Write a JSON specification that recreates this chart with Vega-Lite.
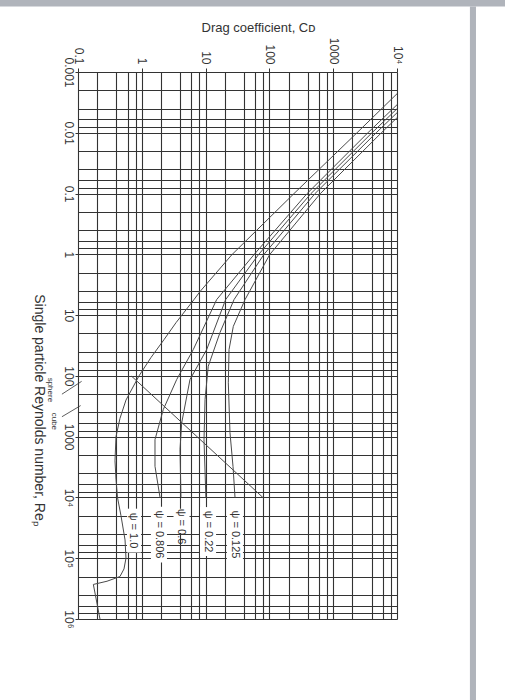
{
  "$schema": "https://vega.github.io/schema/vega-lite/v6.json",
  "width": 319,
  "height": 547,
  "autosize": "none",
  "padding": {"left": 78, "top": 72, "right": 108, "bottom": 81},
  "background": "#ffffff",
  "config": {"font": "Liberation Sans", "view": {"stroke": null}},
  "datasets": {
    "curves": [
      {"psi": "1.0", "CD": 10000, "Re": 0.00228},
      {"psi": "1.0", "CD": 2360, "Re": 0.01},
      {"psi": "1.0", "CD": 243, "Re": 0.1},
      {"psi": "1.0", "CD": 25.9, "Re": 1.01},
      {"psi": "1.0", "CD": 8.17, "Re": 4.1},
      {"psi": "1.0", "CD": 6.57, "Re": 5.56},
      {"psi": "1.0", "CD": 3.44, "Re": 13.3},
      {"psi": "1.0", "CD": 2.23, "Re": 25.3},
      {"psi": "1.0", "CD": 1.39, "Re": 50},
      {"psi": "1.0", "CD": 0.904, "Re": 100},
      {"psi": "1.0", "CD": 0.565, "Re": 250},
      {"psi": "1.0", "CD": 0.455, "Re": 500},
      {"psi": "1.0", "CD": 0.394, "Re": 1000},
      {"psi": "1.0", "CD": 0.38, "Re": 2500},
      {"psi": "1.0", "CD": 0.394, "Re": 5000},
      {"psi": "1.0", "CD": 0.416, "Re": 10000},
      {"psi": "1.0", "CD": 0.472, "Re": 20000},
      {"psi": "1.0", "CD": 0.546, "Re": 50000},
      {"psi": "1.0", "CD": 0.565, "Re": 100000},
      {"psi": "1.0", "CD": 0.526, "Re": 150000},
      {"psi": "1.0", "CD": 0.455, "Re": 200000},
      {"psi": "1.0", "CD": 0.285, "Re": 239000},
      {"psi": "1.0", "CD": 0.174, "Re": 270000},
      {"psi": "1.0", "CD": 0.221, "Re": 1000000},
      {"psi": "0.806", "CD": 10000, "Re": 0.00346},
      {"psi": "0.806", "CD": 3510, "Re": 0.00996},
      {"psi": "0.806", "CD": 388, "Re": 0.1005},
      {"psi": "0.806", "CD": 57.4, "Re": 1.01},
      {"psi": "0.806", "CD": 14.9, "Re": 5.56},
      {"psi": "0.806", "CD": 6.41, "Re": 36.9},
      {"psi": "0.806", "CD": 3.52, "Re": 115},
      {"psi": "0.806", "CD": 2.17, "Re": 358},
      {"psi": "0.806", "CD": 1.61, "Re": 1117},
      {"psi": "0.806", "CD": 1.61, "Re": 3070},
      {"psi": "0.806", "CD": 1.93, "Re": 10000},
      {"psi": "0.6", "CD": 10000, "Re": 0.00403},
      {"psi": "0.6", "CD": 4055, "Re": 0.01},
      {"psi": "0.6", "CD": 449, "Re": 0.1},
      {"psi": "0.6", "CD": 67.5, "Re": 1.01},
      {"psi": "0.6", "CD": 20.6, "Re": 5.56},
      {"psi": "0.6", "CD": 10.4, "Re": 36.9},
      {"psi": "0.6", "CD": 5.69, "Re": 115},
      {"psi": "0.6", "CD": 4.22, "Re": 593},
      {"psi": "0.6", "CD": 3.97, "Re": 1630},
      {"psi": "0.6", "CD": 4.11, "Re": 10000},
      {"psi": "0.22", "CD": 10000, "Re": 0.00469},
      {"psi": "0.22", "CD": 4720, "Re": 0.01},
      {"psi": "0.22", "CD": 519, "Re": 0.1},
      {"psi": "0.22", "CD": 81.7, "Re": 1.01},
      {"psi": "0.22", "CD": 27.9, "Re": 5.56},
      {"psi": "0.22", "CD": 16.8, "Re": 19.4},
      {"psi": "0.22", "CD": 11.0, "Re": 69.5},
      {"psi": "0.22", "CD": 9.8, "Re": 245},
      {"psi": "0.22", "CD": 9.44, "Re": 1117},
      {"psi": "0.22", "CD": 10.1, "Re": 10000},
      {"psi": "0.125", "CD": 10000, "Re": 0.00566},
      {"psi": "0.125", "CD": 5690, "Re": 0.01},
      {"psi": "0.125", "CD": 630, "Re": 0.1},
      {"psi": "0.125", "CD": 101, "Re": 1.01},
      {"psi": "0.125", "CD": 41.5, "Re": 5.56},
      {"psi": "0.125", "CD": 27.2, "Re": 15.3},
      {"psi": "0.125", "CD": 23.3, "Re": 36.9},
      {"psi": "0.125", "CD": 22.7, "Re": 130},
      {"psi": "0.125", "CD": 24.1, "Re": 855},
      {"psi": "0.125", "CD": 26.9, "Re": 3100},
      {"psi": "0.125", "CD": 28.9, "Re": 10000}
    ],
    "diagonal": [
      {"CD": 0.695, "Re": 101.6},
      {"CD": 80.2, "Re": 10160}
    ],
    "labels": [
      {"text": "ψ = 1.0", "CD": 0.728, "Re": 35000, "CDlo": 0.586, "CDhi": 0.972, "Relo": 15300, "Rehi": 80500},
      {"text": "ψ = 0.806", "CD": 1.86, "Re": 40700, "CDlo": 1.39, "CDhi": 2.48, "Relo": 14200, "Rehi": 118000},
      {"text": "ψ = 0.6", "CD": 4.19, "Re": 30100, "CDlo": 3.14, "CDhi": 5.6, "Relo": 15300, "Rehi": 38500},
      {"text": "ψ = 0.22", "CD": 10.9, "Re": 36400, "CDlo": 8.17, "CDhi": 14.6, "Relo": 14400, "Rehi": 92000},
      {"text": "ψ = 0.125", "CD": 28.9, "Re": 40700, "CDlo": 21.6, "CDhi": 38.5, "Relo": 14200, "Rehi": 118000}
    ],
    "leaders": [
      {"shape": "sphere", "CD": 0.056, "Re": 200},
      {"shape": "sphere", "CD": 0.114, "Re": 123},
      {"shape": "cube", "CD": 0.056, "Re": 470},
      {"shape": "cube", "CD": 0.11, "Re": 308}
    ],
    "shapes": [
      {"text": "sphere", "CD": 0.0364, "Re": 170},
      {"text": "cube", "CD": 0.042, "Re": 560}
    ],
    "frame": [
      {"part": "top", "CDa": 0.0001, "CDb": 10000000, "Rea": 0.0000001, "Reb": 0.000084},
      {"part": "side", "CDa": 139000, "CDb": 173000, "Rea": 0.000084, "Reb": 1000000000}
    ]
  },
  "layer": [
    {
      "data": {"name": "curves"},
      "mark": {"type": "line", "color": "#4a4a4a", "strokeWidth": 1, "clip": true},
      "encoding": {
        "x": {
          "field": "CD", "type": "quantitative",
          "scale": {"type": "log", "domain": [0.1, 10000], "nice": false},
          "axis": {
            "orient": "top",
            "values": [0.1, 0.2, 0.4, 0.6, 0.8, 1, 2, 4, 6, 8, 10, 20, 40, 60, 80, 100, 200, 400, 600, 800, 1000, 2000, 4000, 6000, 8000, 10000],
            "grid": true, "gridColor": "#333333", "gridWidth": 1.1, "gridOpacity": 1,
            "domain": false,
            "labelExpr": "datum.value === 0.1 ? '0.1' : datum.value === 1 ? '1' : datum.value === 10 ? '10' : datum.value === 100 ? '100' : datum.value === 1000 ? '1000' : datum.value === 10000 ? '10⁴' : ''",
            "labelAngle": 90, "labelAlign": "right", "labelBaseline": "middle",
            "labelFontSize": 12, "labelColor": "#333333", "labelPadding": 4,
            "labelOverlap": false, "labelFlush": false, "labelBound": false,
            "tickSize": 4, "tickColor": "#333333",
            "tickOpacity": {"condition": {"test": "indexof([0.1, 1, 10, 100, 1000, 10000], datum.value) >= 0", "value": 1}, "value": 0},
            "title": "Drag coefficient, Cᴅ",
            "titleX": 180, "titleY": -41, "titleAngle": 0, "titleAlign": "center", "titleBaseline": "alphabetic",
            "titleFontSize": 13, "titleFontWeight": "normal", "titleColor": "#333333"
          }
        },
        "y": {
          "field": "Re", "type": "quantitative",
          "scale": {"type": "log", "domain": [0.001, 1000000], "reverse": true, "nice": false},
          "axis": {
            "orient": "left",
            "values": [0.001, 0.002, 0.004, 0.006, 0.008, 0.01, 0.02, 0.04, 0.06, 0.08, 0.1, 0.2, 0.4, 0.6, 0.8, 1, 2, 4, 6, 8, 10, 20, 40, 60, 80, 100, 200, 400, 600, 800, 1000, 2000, 4000, 6000, 8000, 10000, 20000, 40000, 60000, 80000, 100000, 200000, 400000, 600000, 800000, 1000000],
            "grid": true, "gridColor": "#333333", "gridWidth": 1.1, "gridOpacity": 1,
            "domain": false,
            "labelExpr": "datum.value === 0.001 ? '0.001' : datum.value === 0.01 ? '0.01' : datum.value === 0.1 ? '0.1' : datum.value === 1 ? '1' : datum.value === 10 ? '10' : datum.value === 100 ? '100' : datum.value === 1000 ? '1000' : datum.value === 10000 ? '10⁴' : datum.value === 100000 ? '10⁵' : datum.value === 1000000 ? '10⁶' : ''",
            "labelAngle": 90, "labelAlign": "center", "labelBaseline": "top",
            "labelFontSize": 12, "labelColor": "#333333", "labelPadding": 2,
            "labelOverlap": false, "labelFlush": false, "labelBound": false,
            "tickSize": 3, "tickColor": "#333333",
            "tickOpacity": {"condition": {"test": "indexof([0.001, 0.01, 0.1, 1, 10, 100, 1000, 10000, 100000, 1000000], datum.value) >= 0", "value": 1}, "value": 0},
            "title": "Single particle Reynolds number, Reₚ",
            "titleX": -40, "titleY": 338, "titleAngle": 90, "titleAlign": "center", "titleBaseline": "middle",
            "titleFontSize": 14, "titleFontWeight": "normal", "titleColor": "#333333"
          }
        },
        "detail": {"field": "psi"},
        "order": {"field": "Re", "type": "quantitative"}
      }
    },
    {
      "data": {"name": "diagonal"},
      "mark": {"type": "line", "color": "#4a4a4a", "strokeWidth": 1, "clip": true},
      "encoding": {
        "x": {"field": "CD", "type": "quantitative"},
        "y": {"field": "Re", "type": "quantitative"}
      }
    },
    {
      "data": {"name": "labels"},
      "mark": {"type": "rect", "color": "#ffffff", "opacity": 1, "clip": false},
      "encoding": {
        "x": {"field": "CDlo", "type": "quantitative"},
        "x2": {"field": "CDhi"},
        "y": {"field": "Relo", "type": "quantitative"},
        "y2": {"field": "Rehi"}
      }
    },
    {
      "data": {"name": "labels"},
      "mark": {"type": "text", "angle": 90, "align": "center", "baseline": "middle", "fontSize": 11, "color": "#333333", "clip": false},
      "encoding": {
        "x": {"field": "CD", "type": "quantitative"},
        "y": {"field": "Re", "type": "quantitative"},
        "text": {"field": "text"}
      }
    },
    {
      "data": {"name": "leaders"},
      "mark": {"type": "line", "color": "#333333", "strokeWidth": 0.8, "clip": false},
      "encoding": {
        "x": {"field": "CD", "type": "quantitative"},
        "y": {"field": "Re", "type": "quantitative"},
        "detail": {"field": "shape"}
      }
    },
    {
      "data": {"name": "shapes"},
      "mark": {"type": "text", "angle": 90, "align": "center", "baseline": "middle", "fontSize": 8, "color": "#333333", "clip": false},
      "encoding": {
        "x": {"field": "CD", "type": "quantitative"},
        "y": {"field": "Re", "type": "quantitative"},
        "text": {"field": "text"}
      }
    },
    {
      "data": {"name": "frame"},
      "mark": {"type": "rect", "color": "#b0b4bb", "clip": false},
      "encoding": {
        "x": {"field": "CDa", "type": "quantitative"},
        "x2": {"field": "CDb"},
        "y": {"field": "Rea", "type": "quantitative"},
        "y2": {"field": "Reb"}
      }
    }
  ]
}
